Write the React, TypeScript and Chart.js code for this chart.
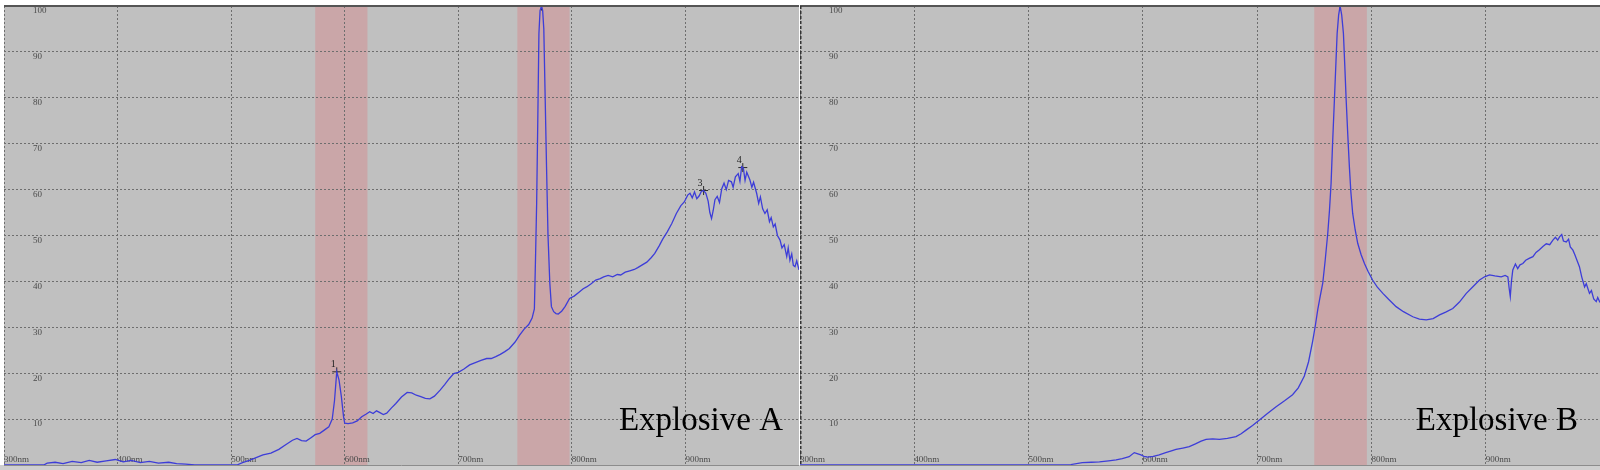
import React, { useEffect, useRef } from 'react';
import { Chart, registerables } from 'chart.js';

Chart.register(...registerables);

// ---------- shared axis ticks ----------
const X_TICKS = [300, 400, 500, 600, 700, 800, 900];
const Y_TICKS = [10, 20, 30, 40, 50, 60, 70, 80, 90, 100];
const X_MIN = 300;
const X_MAX = 1000;
const Y_MIN = 0;
const Y_MAX = 100;

// ---------- Explosive A ----------
const A_TITLE = 'Explosive A';
const A_NM = [
  300, 320, 335, 338, 345, 352, 360, 368, 375, 382, 390, 398, 405, 412, 420, 428, 436, 445, 452, 460, 468, 475, 500, 505,
  510, 516, 522, 528, 535, 542, 548, 554, 558, 562, 566, 570, 574, 578, 582, 586, 589, 591, 593, 595, 597, 599, 600, 603,
  607, 611, 615, 619, 622, 625, 628, 631, 634, 637, 641, 645, 650, 655, 659, 663, 667, 671, 675, 679, 684, 688, 692, 696,
  700, 705, 710, 715, 720, 725, 729, 733, 737, 741, 745, 750, 754, 758, 762, 765, 767, 768, 769, 770, 771, 772, 773.3, 774.3,
  775.3, 776.5, 777.7, 779, 780.6, 782, 784, 786, 788, 791, 794, 798, 802, 806, 810, 813, 817, 821, 825, 828, 832, 836,
  840, 843, 847, 851, 855, 858, 862, 866, 870, 873, 877, 880, 884, 888, 892, 896, 899, 902, 904, 906, 908, 910, 912, 914,
  916, 918, 920, 921.5, 923, 924.5, 926, 928, 930, 932, 934, 936, 938, 940.5, 942, 944, 946.5, 948, 949.5, 951, 952.5, 954,
  956.8, 958.5, 960, 962.7, 964.5, 966, 968, 970, 972, 974, 975.5, 977.4, 979, 981, 983.3, 985, 987, 989.2, 990.5, 992,
  993.6, 995, 996.5, 998, 1000,
];
const A_VAL = [
  0, 0, 0, 0.4, 0.6, 0.3, 0.8, 0.5, 1.0, 0.6, 0.9, 1.2, 0.7, 1.0, 0.5, 0.8, 0.4, 0.6, 0.3, 0.2, 0, 0, 0, 0,
  0.5, 1.0, 1.6, 2.2, 2.6, 3.4, 4.4, 5.4, 5.8, 5.3, 5.2, 5.9, 6.6, 6.9, 7.6, 8.3, 10.0, 14, 20.3, 18.5, 15, 10.5, 9.1, 9.0,
  9.2, 9.6, 10.5, 11.1, 11.6, 11.2, 11.8, 11.4, 11.0, 11.3, 12.4, 13.4, 14.8, 15.8, 15.7, 15.2, 14.9, 14.5, 14.4, 15.0, 16.3, 17.5, 18.8, 19.9,
  20.2, 20.9, 21.8, 22.3, 22.8, 23.2, 23.2, 23.6, 24.1, 24.7, 25.4, 26.8, 28.3, 29.6, 30.6, 32.0, 34, 45, 57, 75, 94, 99, 100, 99,
  95, 80, 65, 50, 39.6, 34.5, 33.4, 33.0, 32.9, 33.5, 34.5, 36.3, 36.8, 37.6, 38.4, 38.8, 39.5, 40.3, 40.6, 41.0, 41.3, 41.0,
  41.5, 41.4, 42.0, 42.3, 42.6, 43.0, 43.6, 44.2, 45.2, 46.1, 47.8, 49.2, 50.8, 52.6, 54.8, 56.5, 57.3, 58.8, 59.2, 58.2, 59.5, 58.0, 58.6, 59.6,
  59.8, 59.2, 57.5, 55.0, 53.7, 55.5, 57.8, 58.5, 57.2, 60.2, 61.4, 60.0, 62.0, 61.7, 60.5, 62.8, 63.5, 61.8, 65.0, 64.7, 62.0, 63.8,
  62.1, 60.5, 61.6, 59.2, 57.0, 58.4, 55.8, 54.8, 55.6, 53.0, 53.9, 51.9, 52.5, 50.0, 49.0, 47.3, 48.0, 45.4, 47.3, 44.6,
  46.0, 43.5, 43.2, 44.5, 42.5,
];
const A_BAND_START = [574, 752];
const A_BAND_END = [620, 798];
const A_MARK_NM = [593, 773.3, 916, 950.5];
const A_MARK_VAL = [20.3, 100, 59.8, 64.8];
const A_MARK_LABELS = ['1', '2', '3', '4'];

// ---------- Explosive B ----------
const B_TITLE = 'Explosive B';
const B_NM = [
  300, 530, 537, 547, 555, 562, 570, 576.6, 582, 588, 592.5, 595, 598.3, 601, 604, 609, 614.3, 620, 625, 629, 635, 640.6,
  646, 651, 655.3, 661, 667, 674, 681.5, 686, 690.3, 696, 702, 709, 716.6, 724, 731, 736, 741.3, 745, 748.6, 751, 753, 755,
  757.4, 759.5, 761.8, 763.3, 764.7, 766, 767.6, 769, 770, 771.3, 772.6, 774, 775.5, 776.7, 777.9, 779.3, 780.7, 782, 783.6,
  785.8, 788, 791, 793.9, 797, 801, 805, 810, 815, 821.6, 828, 836.2, 842, 848, 854, 859.6, 865, 871.2, 877, 883, 889,
  894.6, 899, 903.3, 908, 913.6, 917, 919.4, 920.5, 921.5, 922.5, 923.7, 926, 928, 930, 932.5, 935, 938, 941.3, 944, 947,
  950, 953, 956, 958.8, 961, 963, 964.6, 966.5, 968, 970.5, 972.5, 974, 976.3, 978, 980, 982, 984, 986.5, 988, 990.8,
  992.5, 994.5, 996.7, 998, 1000,
];
const B_VAL = [
  0, 0, 0.1, 0.5, 0.6, 0.7, 0.9, 1.1, 1.4, 1.8, 2.7, 2.5, 2.2, 1.9, 1.7, 1.9, 2.2, 2.7, 3.1, 3.4, 3.7, 4.0,
  4.6, 5.2, 5.6, 5.7, 5.6, 5.8, 6.2, 6.8, 7.6, 8.6, 9.8, 11.2, 12.7, 14.0, 15.3, 16.8, 19.4, 22.5, 27, 30.5, 33.8, 36.5,
  39.6, 44.5, 50.5, 55.5, 61.4, 70, 79.5, 88, 94, 98, 100, 98, 94, 87, 79.5, 72, 65, 59.5, 54.8,
  51.2, 48.3, 45.8, 43.9, 42.2, 40.3, 38.8, 37.4, 36.1, 34.5, 33.4, 32.3, 31.8, 31.6, 31.9, 32.7, 33.3, 34.1, 35.5, 37.4, 38.9,
  40.3, 41.0, 41.4, 41.2, 41.0, 41.3, 41.0, 38.5, 36.7, 40, 42.5, 43.8, 42.8, 43.6, 43.9, 44.6, 45.0, 45.4, 46.3, 46.9,
  47.6, 48.2, 48.0, 49.0, 49.6, 49.0, 49.7, 50.2, 48.8, 48.6, 49.2, 47.5, 46.8, 45.8, 44.5, 43.2, 41.0, 38.8, 39.5, 37.4,
  38.0, 36.2, 35.6, 36.5, 35.4,
];
const B_BAND_START = [750];
const B_BAND_END = [796];
const B_MARK_NM = [772.6];
const B_MARK_VAL = [100];
const B_MARK_LABELS = ['1'];

// ---------- styles ----------
const PLOT_BG = '#c0c0c0';
const BAND_COLOR = '#caa6a8';
const LINE_COLOR = '#3d3dd8';
const GRID_COLOR = '#6e6e6e';
const TICK_COLOR = '#4a4a4a';
const TICK_FONT = 'Liberation Serif';

type PanelProps = {
  title: string;
  nm: number[];
  val: number[];
  bandStart: number[];
  bandEnd: number[];
  markNm: number[];
  markVal: number[];
  markLabels: string[];
  padLeft: number;
  padRight: number;
  titleInset: number;
  divider: boolean;
};

function Panel(props: PanelProps) {
  const ref = useRef<HTMLCanvasElement | null>(null);

  useEffect(() => {
    if (!ref.current) return;
    const p = props;
    const decor = {
      id: 'panelDecor',
      beforeDraw(chart: any) {
        const { ctx, chartArea: a, scales } = chart;
        const x = scales.x;
        ctx.save();
        ctx.fillStyle = '#ffffff';
        ctx.fillRect(0, 0, chart.width, chart.height);
        ctx.fillStyle = '#cfcfcf';
        ctx.fillRect(0, a.bottom, chart.width, chart.height - a.bottom);
        ctx.fillStyle = PLOT_BG;
        ctx.fillRect(a.left, a.top, a.right - a.left, a.bottom - a.top);
        ctx.fillStyle = BAND_COLOR;
        p.bandStart.forEach((s, i) => {
          const x0 = x.getPixelForValue(s);
          const x1 = x.getPixelForValue(p.bandEnd[i]);
          ctx.fillRect(x0, a.top, x1 - x0, a.bottom - a.top);
        });
        ctx.restore();
      },
      afterDatasetsDraw(chart: any) {
        const { ctx, chartArea: a } = chart;
        const meta = chart.getDatasetMeta(1);
        ctx.save();
        ctx.beginPath();
        ctx.rect(a.left, a.top, a.right - a.left, a.bottom - a.top);
        ctx.clip();
        ctx.fillStyle = '#222';
        ctx.font = `10px "${TICK_FONT}"`;
        ctx.textAlign = 'right';
        ctx.textBaseline = 'bottom';
        meta.data.forEach((pt: any, i: number) => {
          ctx.fillText(p.markLabels[i], pt.x - 1, pt.y - 2);
        });
        ctx.restore();

        ctx.save();
        // top frame line
        ctx.strokeStyle = '#555555';
        ctx.lineWidth = 2;
        ctx.beginPath();
        ctx.moveTo(a.left, a.top);
        ctx.lineTo(a.right, a.top);
        ctx.stroke();
        // bottom frame line
        ctx.strokeStyle = '#8c8c8c';
        ctx.lineWidth = 1;
        ctx.beginPath();
        ctx.moveTo(a.left, a.bottom + 0.5);
        ctx.lineTo(a.right, a.bottom + 0.5);
        ctx.stroke();
        if (p.divider) {
          ctx.strokeStyle = '#333333';
          ctx.lineWidth = 1.5;
          ctx.setLineDash([3, 2]);
          ctx.beginPath();
          ctx.moveTo(a.left + 0.75, a.top);
          ctx.lineTo(a.left + 0.75, a.bottom);
          ctx.stroke();
          ctx.setLineDash([]);
        }
        // panel title
        ctx.fillStyle = '#000000';
        ctx.font = '33px "Liberation Serif"';
        ctx.textAlign = 'right';
        ctx.textBaseline = 'alphabetic';
        ctx.fillText(p.title, a.right - p.titleInset, a.bottom - 35);
        ctx.restore();
      },
    };

    const spectrum = p.nm.map((n, i) => ({ x: n, y: p.val[i] }));
    const marks = p.markNm.map((n, i) => ({ x: n, y: p.markVal[i] }));

    const gridOpts = { color: GRID_COLOR, lineWidth: 1, drawTicks: false };
    const borderOpts = { display: false, dash: [2, 2] };
    const flatten = (s: any) => {
      if (s.isHorizontal()) s.height = 0;
      else s.width = 0;
      s.paddingTop = 0;
      s.paddingBottom = 0;
      s.paddingLeft = 0;
      s.paddingRight = 0;
    };

    const chart = new Chart(ref.current, {
      type: 'line',
      data: {
        datasets: [
          {
            data: spectrum,
            borderColor: LINE_COLOR,
            borderWidth: 1.3,
            pointRadius: 0,
            tension: 0,
            fill: false,
          },
          {
            data: marks,
            showLine: false,
            pointStyle: 'cross',
            pointRadius: 4.5,
            borderColor: '#2a2a2a',
            borderWidth: 1,
          },
        ],
      },
      options: {
        animation: false,
        responsive: false,
        events: [],
        layout: { autoPadding: false, padding: { left: p.padLeft, right: p.padRight, top: 6, bottom: 5 } },
        plugins: { legend: { display: false }, tooltip: { enabled: false } },
        scales: {
          x: {
            type: 'linear',
            min: X_MIN,
            max: X_MAX,
            afterBuildTicks: (s: any) => {
              s.ticks = X_TICKS.map((v) => ({ value: v }));
            },
            afterFit: flatten,
            ticks: {
              mirror: true,
              align: 'start',
              padding: 0,
              maxRotation: 0,
              autoSkip: false,
              color: TICK_COLOR,
              font: { family: TICK_FONT, size: 9 },
              callback: (v: any) => `${v}nm`,
            },
            grid: gridOpts,
            border: borderOpts,
          },
          y: {
            type: 'linear',
            min: Y_MIN,
            max: Y_MAX,
            afterBuildTicks: (s: any) => {
              s.ticks = Y_TICKS.map((v) => ({ value: v }));
            },
            afterFit: flatten,
            ticks: {
              mirror: true,
              padding: 29,
              labelOffset: 5,
              color: TICK_COLOR,
              font: { family: TICK_FONT, size: 9 },
            },
            grid: gridOpts,
            border: borderOpts,
          },
        },
      } as any,
      plugins: [decor],
    });
    return () => chart.destroy();
  }, []);

  return <canvas ref={ref} width={800} height={470} style={{ display: 'block' }} />;
}

export default function App() {
  return (
    <div style={{ position: 'fixed', left: 0, top: 0, width: 1600, height: 470, display: 'flex', background: '#fff' }}>
      <Panel
        title={A_TITLE}
        nm={A_NM}
        val={A_VAL}
        bandStart={A_BAND_START}
        bandEnd={A_BAND_END}
        markNm={A_MARK_NM}
        markVal={A_MARK_VAL}
        markLabels={A_MARK_LABELS}
        padLeft={4}
        padRight={1}
        titleInset={16}
        divider={false}
      />
      <Panel
        title={B_TITLE}
        nm={B_NM}
        val={B_VAL}
        bandStart={B_BAND_START}
        bandEnd={B_BAND_END}
        markNm={B_MARK_NM}
        markVal={B_MARK_VAL}
        markLabels={B_MARK_LABELS}
        padLeft={0}
        padRight={0}
        titleInset={22}
        divider={true}
      />
    </div>
  );
}
